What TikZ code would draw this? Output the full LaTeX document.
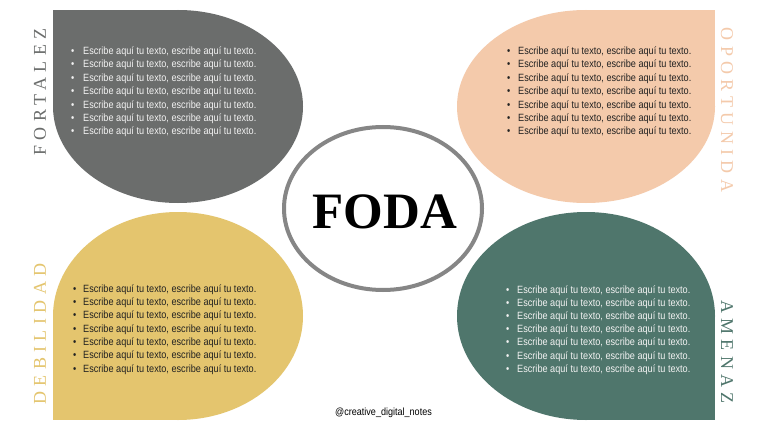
\documentclass[tikz,border=0pt]{standalone}
\usepackage{fontspec}
\setmainfont{Liberation Serif}
\newfontfamily\narrowfont[FakeStretch=0.87]{Liberation Sans}
\newfontfamily\labelfont[LetterSpace=30]{Liberation Serif}
\definecolor{cgray}{HTML}{6B6D6C}
\definecolor{cpeach}{HTML}{F4CAAB}
\definecolor{cyellow}{HTML}{E4C56E}
\definecolor{cgreen}{HTML}{4F766C}
\definecolor{cring}{HTML}{868686}
\definecolor{txtlight}{HTML}{F2F2F2}
\definecolor{txtdark}{HTML}{222222}
\begin{document}
\begin{tikzpicture}[x=1pt,y=-1pt,
  linetext/.style={anchor=base west, inner sep=0pt, font=\narrowfont\fontsize{10.5}{12}\selectfont},
  sidelabel/.style={inner sep=0pt, font=\labelfont\fontsize{18}{20}\selectfont},
  blob/.style={draw=none}]
\useasboundingbox (0,0) rectangle (768,433);
\fill[white] (0,0) rectangle (768,433);

% Fortalezas (gray, square top-left corner)
\fill[cgray] (178,106.5) ellipse [x radius=125, y radius=96.5];
\fill[cgray] (53,10) rectangle (178,106.5);
% Oportunidades (peach, square top-right corner)
\fill[cpeach] (586,106.5) ellipse [x radius=129, y radius=96.5];
\fill[cpeach] (586,10) rectangle (715,106.5);
% Debilidades (yellow, square bottom-left corner)
\fill[cyellow] (178,316) ellipse [x radius=125, y radius=104];
\fill[cyellow] (53,316) rectangle (178,420);
% Amenazas (green, square bottom-right corner)
\fill[cgreen] (586,316) ellipse [x radius=129, y radius=104];
\fill[cgreen] (586,316) rectangle (715,420);

% central ellipse
\draw[cring, line width=4pt, fill=white] (383,208.5) ellipse [x radius=99, y radius=81.5];
\node[inner sep=0pt, font=\fontsize{51}{55}\selectfont\bfseries] (foda) at (385,211.7) {FODA};

% bullet texts
\foreach \i in {0,...,6} {
  \node[linetext, text=txtlight] (f\i) at (71, 54.3+13.45*\i) {\makebox[12pt][l]{\textbullet}Escribe aquí tu texto, escribe aquí tu texto.};
  \node[linetext, text=txtdark] (o\i) at (507, 54.3+13.45*\i) {\makebox[11pt][l]{\textbullet}Escribe aquí tu texto, escribe aquí tu texto.};
  \node[linetext, text=txtdark] (d\i) at (73, 292.3+13.33*\i) {\makebox[10pt][l]{\textbullet}Escribe aquí tu texto, escribe aquí tu texto.};
  \node[linetext, text=txtlight] (a\i) at (506, 293+13.2*\i) {\makebox[11pt][l]{\textbullet}Escribe aquí tu texto, escribe aquí tu texto.};
}

% side labels
\node[sidelabel, text=cgray, rotate=90] (lf) at (40,92) {FORTALEZ};
\node[sidelabel, text=cpeach, rotate=-90] (lo) at (727,110) {OPORTUNIDA};
\node[sidelabel, text=cyellow, rotate=90] (ld) at (40,334) {DEBILIDAD};
\node[sidelabel, text=cgreen, rotate=-90] (la) at (727,352) {AMENAZ};

% footer
\node[anchor=base, inner sep=0pt, font=\narrowfont\fontsize{10.4}{12}\selectfont] (footer) at (383.5,415) {@creative\_digital\_notes};
\end{tikzpicture}
\end{document}
